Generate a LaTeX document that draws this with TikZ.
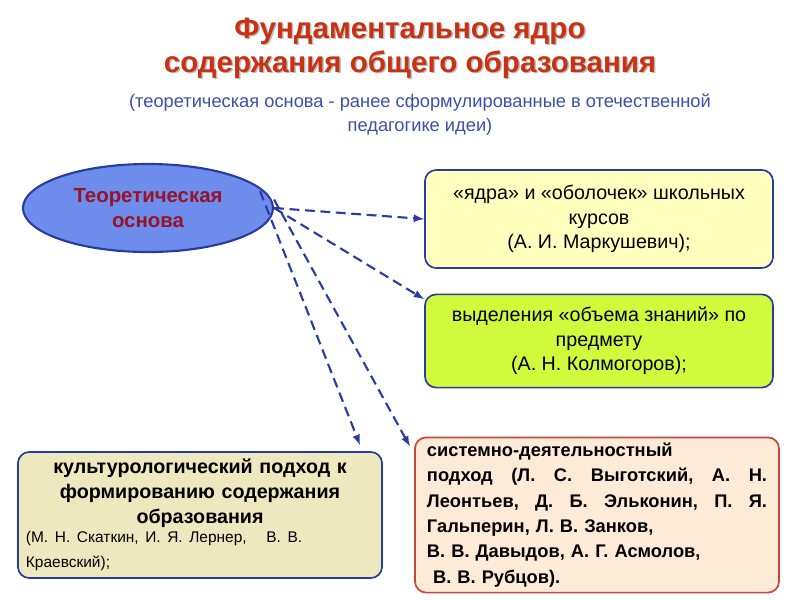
\documentclass[tikz,border=0pt]{standalone}
\usepackage{fontspec}
\setmainfont{Liberation Sans}
\usetikzlibrary{shapes.geometric}
\definecolor{titlered}{RGB}{200,50,20}
\definecolor{subblue}{RGB}{60,80,170}
\definecolor{frameblue}{RGB}{40,60,160}
\definecolor{ovalblue}{RGB}{110,140,235}
\definecolor{namered}{RGB}{150,20,40}
\definecolor{boxyellow}{RGB}{255,255,190}
\definecolor{boxgreen}{RGB}{210,250,60}
\definecolor{boxbeige}{RGB}{238,232,190}
\definecolor{boxpeach}{RGB}{253,235,216}
\definecolor{framered}{RGB}{200,70,60}
\tikzset{
  body/.style={font=\fontsize{14}{17.5}\selectfont},
  infobox/.style={draw=frameblue,line width=1.2pt,rounded corners=8pt,
    inner sep=4pt,body,align=center},
  headtext/.style={font=\fontsize{21}{24}\bfseries\selectfont,align=center},
  link/.style={draw=frameblue,line width=1.5pt,dash pattern=on 7pt off 4pt,-latex}
}
\begin{document}
\begin{tikzpicture}[x=0.025cm,y=-0.025cm]
  \useasboundingbox[fill=white] (0,0) rectangle (800,600);
  % heading
  \node[headtext,gray!50] (headshadow) at (411.5,49.5)
    {Фундаментальное ядро\\содержания общего образования};
  \node[headtext,titlered] (head) at (410,48)
    {Фундаментальное ядро\\содержания общего образования};
  \node[subblue,font=\fontsize{13}{17}\selectfont,align=center] (sub) at (420,115)
    {(теоретическая основа - ранее сформулированные в отечественной\\педагогике идеи)};
  % source
  \node[ellipse,draw=frameblue,line width=1.5pt,fill=ovalblue,
    minimum width=6.25cm,minimum height=2.2cm,text=namered,
    font=\fontsize{14.5}{18}\bfseries\selectfont,align=center] (theory) at (148,208)
    {Теоретическая\\основа};
  % targets
  \node[infobox,fill=boxyellow,minimum width=8.7cm,minimum height=2.45cm] (core) at (599,219)
    {«ядра» и «оболочек» школьных\\курсов\\(А. И. Маркушевич);};
  \node[infobox,fill=boxgreen,minimum width=8.7cm,minimum height=2.33cm] (volume) at (599,341)
    {выделения «объема знаний» по\\предмету\\(А. Н. Колмогоров);};
  \node[infobox,fill=boxbeige,minimum width=9.1cm,minimum height=3.15cm,
    text width=8.7cm,align=left] (culture) at (200,515)
    {{\centering\bfseries культурологический подход к\\формированию содержания\\образования\par}
     \fontsize{11}{14}\selectfont
     (М. Н. Скаткин, И. Я. Лернер,\ \ \ В. В.\\Краевский);};
  \node[infobox,draw=framered,fill=boxpeach,minimum width=9.1cm,minimum height=3.55cm,
    text width=8.5cm,align=left,font=\fontsize{13}{18}\bfseries\selectfont] (activity) at (597,515)
    {системно-деятельностный\\
     подход\hfill(Л.\hfill С.\hfill Выготский,\hfill А.\hfill Н.\\
     Леонтьев,\hfill Д.\hfill Б.\hfill Эльконин,\hfill П.\hfill Я.\\
     Гальперин, Л. В. Занков,\\
     В. В. Давыдов, А. Г. Асмолов,\\
     \ В. В. Рубцов).};
  % links
  \draw[link] (theory.east) -- (core.west);
  \draw[link] (theory.east) -- ([yshift=-4]volume.north west);
  \draw[link] ([xshift=-10,yshift=12]theory.east) -- (360,445);
  \draw[link] ([yshift=6]theory.east) -- ([xshift=-3,yshift=-7]activity.north west);
\end{tikzpicture}
\end{document}
